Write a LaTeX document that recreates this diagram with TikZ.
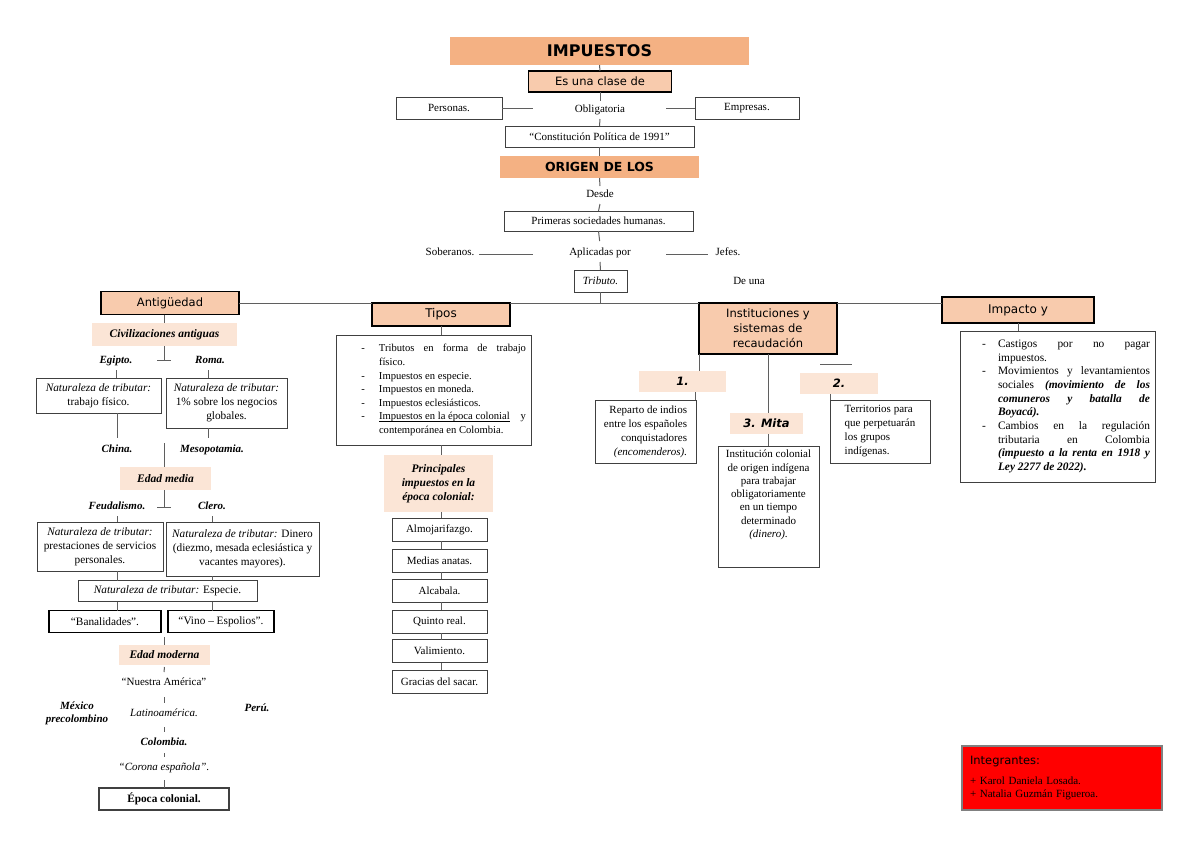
\documentclass[tikz,border=0pt]{standalone}
\usepackage{fontspec}
\setmainfont{Liberation Serif}
\newfontfamily\dv{DejaVu Sans}
\usetikzlibrary{calc}
\definecolor{hdr}{HTML}{F4B183}
\definecolor{sub}{HTML}{F8CBAD}
\definecolor{lite}{HTML}{FBE5D6}
\definecolor{lnc}{HTML}{5F5F5F}
\definecolor{bdc}{HTML}{404040}
\newcommand\lstitem[2]{\noindent\llap{-\hspace{#1}}#2\par}
\newcommand\ulin[1]{\setbox0\hbox{#1}\rlap{\rule[-1.6pt]{\wd0}{0.5pt}}\box0\relax}
\begin{document}
\begin{tikzpicture}[x=1pt,y=-1pt,
  every node/.style={inner sep=0pt, outer sep=0pt},
  con/.style={draw=lnc, line width=1pt},
  tick/.style={con, shorten <=2pt, shorten >=2pt},
  tbox/.style={draw=bdc, line width=0.8pt, fill=white, align=center, font=\fontsize{11}{13.5}\selectfont},
  tboxb/.style={tbox, font=\fontsize{11.3}{14}\selectfont},
  thick box/.style={tbox, draw=black, line width=1.6pt},
  hbox/.style={fill=hdr, font=\dv\bfseries\fontsize{16}{18}\selectfont},
  sbox/.style={fill=sub, draw=black, line width=1.4pt, align=center, font=\dv\fontsize{11.5}{15}\selectfont},
  lbox/.style={fill=lite, align=center, font=\bfseries\itshape\fontsize{11.5}{14}\selectfont},
  lnum/.style={fill=lite, font=\dv\bfseries\itshape\fontsize{11.5}{14}\selectfont},
  txt/.style={font=\fontsize{11}{13}\selectfont, inner xsep=2pt, inner ysep=4pt, text height=7.5pt, text depth=2.5pt},
  itxt/.style={txt, font=\itshape\fontsize{11}{13}\selectfont},
  btxt/.style={txt, font=\bfseries\itshape\fontsize{11}{13}\selectfont},
]
\fill[white] (0,0) rectangle (1200,849);
\useasboundingbox (0,0) rectangle (1200,849);

% ---------- top ----------
\node[hbox, minimum width=299pt, minimum height=28pt] (imp) at (599.5,51) {IMPUESTOS};
\node[sbox, minimum width=143pt, minimum height=21pt] (es) at (600,81.5) {Es una clase de};
\node[txt] (obl) at (600,110) {Obligatoria};
\node[tbox, minimum width=106pt, minimum height=22pt] (per) at (449,108) {Personas.};
\node[tbox, minimum width=104pt, minimum height=22pt] (emp) at (747,108) {Empresas.};
\node[tbox, minimum width=189pt, minimum height=21pt] (con) at (599.5,136.5) {“Constitución Política de 1991”};
\node[hbox, minimum width=199pt, minimum height=22pt, font=\dv\bfseries\fontsize{12.5}{15}\selectfont] (ori) at (599.5,167) {ORIGEN DE LOS};
\node[txt] (des) at (600,195) {Desde};
\node[tbox, minimum width=189pt, minimum height=20pt] (pri) at (598.5,221) {Primeras sociedades humanas.};
\node[txt] (apl) at (600,253) {Aplicadas por};
\node[txt] (sob) at (450,253) {Soberanos.};
\node[txt] (jef) at (728,253) {Jefes.};
\node[tbox, minimum width=53pt, minimum height=22pt, font=\itshape\fontsize{11}{13}\selectfont] (tri) at (600.5,281) {Tributo.};
\node[txt] (deu) at (749,282) {De una};

\coordinate (oL) at (533,108);
\coordinate (oR) at (666,108);
\coordinate (sR) at (533,254);
\coordinate (jL) at (666,254);

\draw[con] (imp.south) -- (es.north);
\draw[con] (es.south) -- (obl.north);
\draw[con] (per.east) -- (oL);
\draw[con] (oR) -- (emp.west);
\draw[con] (obl.south) -- (con.north);
\draw[con] (con.south) -- (ori.north);
\draw[con] (ori.south) -- (des.north);
\draw[con] (des.south) -- (pri.north);
\draw[con, shorten >=3pt] (pri.south) -- (apl.north);
\draw[con, shorten <=3pt] (sob.east |- sR) -- (sR);
\draw[con, shorten >=6pt] (jL) -- (jef.west |- jL);
\draw[con] (apl.south) -- (tri.north);

% ---------- level 1 ----------
\node[sbox, minimum width=138pt, minimum height=23pt] (ant) at (170,303) {Antigüedad};
\node[sbox, minimum width=138pt, minimum height=23pt, font=\dv\fontsize{12}{15}\selectfont] (tip) at (441,314.5) {Tipos};
\node[sbox, minimum width=138pt, minimum height=51pt] (ins) at (768,328.5) {Instituciones y\\sistemas de\\recaudación};
\node[sbox, minimum width=152pt, minimum height=26pt, font=\dv\fontsize{12}{15}\selectfont] (ipc) at (1018,310) {Impacto y};

\draw[con] (tri.south) -- (tri.south |- tip.north);
\draw[con] (ant.east) -- (tip.north west);
\draw[con] (tip.north east) -- (ins.north west);
\draw[con] (ins.north east) -- (ins.north east -| ipc.west);

% ---------- left column ----------
\node[lbox, minimum width=145pt, minimum height=23pt] (civ) at (164.5,334.5) {Civilizaciones antiguas};
\coordinate (t1) at (164,360);
\draw[con] (ant.south -| civ) -- (civ.north);
\draw[con] (civ.south -| t1) -- (t1);
\draw[con] ([xshift=-7pt]t1) -- ([xshift=7pt]t1);
\node[btxt] (egi) at (116,361) {Egipto.};
\node[btxt] (rom) at (210,361) {Roma.};
\node[tboxb, minimum width=125pt, minimum height=35pt] (egb) at (98.5,395.5) {\textit{Naturaleza de tributar:}\\trabajo físico.};
\node[tboxb, minimum width=121pt, minimum height=50pt] (rob) at (226.5,403) {\textit{Naturaleza de tributar:}\\1\% sobre los negocios\\globales.};
\draw[con] (egi.south) -- (egi.south |- egb.north);
\draw[con] ([xshift=-2pt]rom.south) -- ([xshift=-2pt]rom.south |- rob.north);
\node[btxt] (chi) at (117,450) {China.};
\node[btxt] (mes) at (212,450) {Mesopotamia.};
\draw[con, shorten >=3pt] (egb.south -| chi) -- (chi.north);
\draw[con, shorten >=3pt] ([xshift=-2pt]rob.south -| rom) -- ([xshift=-2pt]mes.north -| rom);
\node[lbox, minimum width=91pt, minimum height=23pt] (med) at (165.5,478.5) {Edad media};
\coordinate (m0) at (164,443);
\draw[con] (m0) -- (med.north -| m0);
\coordinate (t2) at (164,507);
\draw[con] (med.south -| t2) -- (t2);
\draw[con] ([xshift=-7pt]t2) -- ([xshift=7pt]t2);
\node[btxt] (feu) at (117,507) {Feudalismo.};
\node[btxt] (cle) at (212,507) {Clero.};
\node[tboxb, minimum width=126pt, minimum height=49pt] (feb) at (100,546.5) {\textit{Naturaleza de tributar:}\\prestaciones de servicios\\personales.};
\node[tboxb, minimum width=153pt, minimum height=54pt] (clb) at (242.5,549) {\textit{Naturaleza de tributar:} Dinero\\(diezmo, mesada eclesiástica y\\vacantes mayores).};
\draw[con] (feu.south) -- (feu.south |- feb.north);
\draw[con] (cle.south) -- (cle.south |- clb.north);
\node[tboxb, minimum width=179pt, minimum height=21pt] (esp) at (167.5,591) {\textit{Naturaleza de tributar:} Especie.};
\draw[con] (feb.south -| feu) -- (esp.north -| feu);
\draw[con] (clb.south -| cle) -- (esp.north -| cle);
\node[thick box, font=\fontsize{11.3}{14}\selectfont, minimum width=112pt, minimum height=22pt] (ban) at (105,621.5) {“Banalidades”.};
\node[thick box, font=\fontsize{11.3}{14}\selectfont, minimum width=106pt, minimum height=22pt] (vin) at (221,621.5) {“Vino – Espolios”.};
\draw[con] (esp.south -| feu) -- (ban.north -| feu);
\draw[con] (esp.south -| cle) -- (vin.north -| cle);
\node[lbox, minimum width=91pt, minimum height=20pt] (mod) at (164.5,655) {Edad moderna};
\coordinate (m1) at (164,637);
\draw[con] (m1) -- (mod.north -| m1);
\node[txt] (nue) at (164,683) {“Nuestra América”};
\node[itxt] (lat) at (164,714) {Latinoamérica.};
\node[btxt] (col) at (164,743) {Colombia.};
\node[itxt] (cor) at (164,768) {“Corona española”.};
\node[tbox, draw=bdc, line width=1.2pt, font=\bfseries\fontsize{11.3}{14}\selectfont, minimum width=130pt, minimum height=22pt] (epo) at (164,799) {Época colonial.};
\node[btxt, align=center, text height=, text depth=] (mex) at (77,713) {México\\precolombino};
\node[btxt] (peru) at (257,709) {Perú.};
\draw[tick] (mod.south) -- (nue.north);
\draw[con, shorten <=5pt, shorten >=2pt] (nue.south) -- (lat.north);
\draw[con, shorten <=4pt, shorten >=2pt] (lat.south) -- (col.north);
\draw[con, shorten <=1pt, shorten >=2pt] (col.south) -- (cor.north);
\draw[con, shorten <=3pt] (cor.south) -- (epo.north);

% ---------- middle column ----------
\node[tbox, minimum width=195pt, minimum height=110pt, text width=185pt, align=justify, font=\fontsize{10.6}{13.6}\selectfont] (tpl) at (433.5,390)
 {\leftskip=38pt\relax\hyphenpenalty=10000\exhyphenpenalty=10000
  \lstitem{14pt}{Tributos en forma de trabajo\linebreak físico.}
  \lstitem{14pt}{Impuestos en especie.}
  \lstitem{14pt}{Impuestos en moneda.}
  \lstitem{14pt}{Impuestos eclesiásticos.}
  \lstitem{14pt}{\ulin{Impuestos en la época colonial} y\linebreak contemporánea en Colombia.}};
\draw[con] (tip.south) -- (tip.south |- tpl.north);
\node[lbox, minimum width=109pt, minimum height=57pt] (pim) at (438.5,483.5) {Principales\\impuestos en la\\época colonial:};
\draw[con] (tpl.south -| tip) -- (pim.north -| tip);
\node[tbox, minimum width=95pt, minimum height=23pt] (i1) at (439.5,529.5) {Almojarifazgo.};
\node[tbox, minimum width=95pt, minimum height=23pt] (i2) at (439.5,560.5) {Medias anatas.};
\node[tbox, minimum width=95pt, minimum height=23pt] (i3) at (439.5,590.5) {Alcabala.};
\node[tbox, minimum width=95pt, minimum height=23pt] (i4) at (439.5,621.5) {Quinto real.};
\node[tbox, minimum width=95pt, minimum height=23pt] (i5) at (439.5,651) {Valimiento.};
\node[tbox, minimum width=95pt, minimum height=23pt] (i6) at (439.5,681.5) {Gracias del sacar.};
\draw[con] (pim.south -| tip) -- (i1.north -| tip);
\draw[con] (i1.south -| tip) -- (i2.north -| tip);
\draw[con] (i2.south -| tip) -- (i3.north -| tip);
\draw[con] (i3.south -| tip) -- (i4.north -| tip);
\draw[con] (i4.south -| tip) -- (i5.north -| tip);
\draw[con] (i5.south -| tip) -- (i6.north -| tip);

% ---------- instituciones ----------
\node[lnum, minimum width=87pt, minimum height=21pt] (n1) at (682.5,381.5) {1.};
\node[tbox, minimum width=101pt, minimum height=63pt, align=right, inner xsep=7pt, font=\fontsize{11}{14}\selectfont] (rep) at (645.5,431.5) {Reparto de indios\\entre los españoles\\conquistadores\\\textit{(encomenderos).}};
\draw[con] (ins.south west) -- (ins.south west |- n1.north);
\draw[con] ([xshift=-1pt]n1.south -| rep.north east) -- ([xshift=-1pt]rep.north east);
\node[lnum, minimum width=73pt, minimum height=21pt] (mit) at (766.5,423.5) {3. Mita};
\node[tbox, minimum width=101pt, minimum height=121pt, font=\fontsize{11}{13.3}\selectfont] (mid) at (768.5,506.5) {Institución colonial\\de origen indígena\\para trabajar\\obligatoriamente\\en un tiempo\\determinado\\\textit{(dinero)}.\\[12pt]};
\draw[con] (ins.south) -- (mit.north -| ins.south);
\draw[con] (mit.south -| ins.south) -- (mid.north -| ins.south);
\coordinate (h1) at (820,364);
\coordinate (h2) at (852,364);
\draw[con] (h1) -- (h2);
\node[lnum, minimum width=78pt, minimum height=21pt] (n2) at (839,383.5) {2.};
\node[tbox, minimum width=100pt, minimum height=63pt, align=left, inner xsep=7pt, font=\fontsize{11}{14}\selectfont] (ter) at (880,431.5) {Territorios para\\que perpetuarán\\los grupos\\indígenas.};
\draw[con] (n2.south -| ter.north west) -- (ter.north west);

% ---------- impacto ----------
\node[tbox, minimum width=195pt, minimum height=151pt, text width=185pt, align=justify, font=\fontsize{11.4}{13.7}\selectfont] (ipl) at (1057.5,406.5)
 {\leftskip=33pt\relax\hyphenpenalty=10000\exhyphenpenalty=10000
  \lstitem{12pt}{Castigos por no pagar\linebreak impuestos.}
  \lstitem{12pt}{Movimientos y levantamientos\linebreak sociales \textbf{\textit{(movimiento de los\linebreak comuneros y batalla de\linebreak Boyacá).}}}
  \lstitem{12pt}{Cambios en la regulación\linebreak tributaria en Colombia\linebreak \textbf{\textit{(impuesto a la renta en 1918 y\linebreak Ley 2277 de 2022).}}}};
\draw[con] (ipc.south) -- (ipc.south |- ipl.north);

% ---------- integrantes ----------
\node[fill=red, draw=gray, line width=1.3pt, minimum width=200pt, minimum height=64pt, text width=184pt, align=left, font=\fontsize{11}{13}\selectfont] (int) at (1062,778)
 {{\dv\fontsize{11.5}{14}\selectfont Integrantes:}\\[7pt]
  + Karol Daniela Losada.\\
  + Natalia Guzmán Figueroa.};
\end{tikzpicture}
\end{document}
